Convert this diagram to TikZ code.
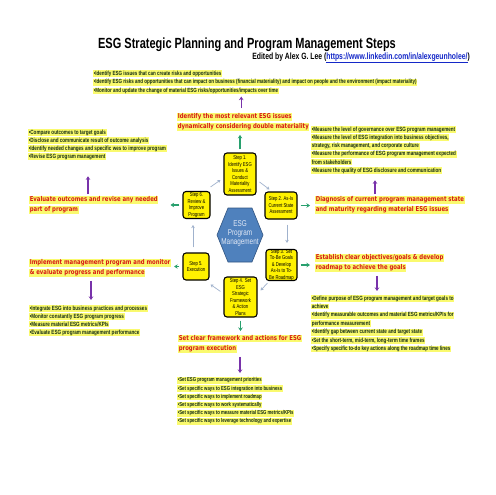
\documentclass[tikz,border=0pt]{standalone}
\usepackage{fontspec}
\setmainfont{Liberation Sans}
\newfontfamily\nf[FakeStretch=0.75]{Liberation Sans}
\newfontfamily\hf[FakeStretch=0.8]{DejaVu Sans}
\usetikzlibrary{arrows.meta,calc}
\definecolor{hly}{RGB}{250,250,110}
\definecolor{txtg}{RGB}{20,45,20}
\definecolor{hred}{RGB}{215,25,20}
\definecolor{garr}{RGB}{40,160,110}
\definecolor{parr}{RGB}{120,50,170}
\definecolor{carr}{RGB}{160,178,205}
\definecolor{hexf}{RGB}{79,129,189}
\definecolor{hexd}{RGB}{50,85,130}
\definecolor{hext}{RGB}{225,232,245}
\definecolor{urlb}{RGB}{20,40,200}
\newcommand\hlx[1]{{\setlength\fboxsep{0.6pt}\colorbox{hly}{#1}}}
\tikzset{
  stepbox/.style={draw=black, line width=1.1pt, fill=yellow, rounded corners=3pt,
    align=center, inner sep=0pt, font=\nf\fontsize{5.6}{6.5}\selectfont},
  bul/.style={anchor=north west, align=left, inner sep=0pt, text=txtg},
  head/.style={anchor=north west, align=left, inner sep=0pt, text=hred,
    font=\hf\bfseries\fontsize{6.7}{9.8}\selectfont},
  garrow/.style={draw=garr, line width=1.1pt, -{Stealth[length=3.5pt,width=4.5pt]}},
  parrow/.style={draw=parr, line width=1.1pt, -{Stealth[length=3.5pt,width=4.5pt]}},
  carrow/.style={draw=carr, line width=0.7pt, -{Stealth[length=3pt,width=3.5pt]}}
}
\begin{document}
\begin{tikzpicture}[x=1pt,y=-1pt]
\useasboundingbox (0,0) rectangle (495,495);
\fill[white] (0,0) rectangle (495,495);

% title
\node[inner sep=0pt, font=\nf\bfseries\fontsize{14.7}{16}\selectfont] (title) at (247,45)
  {ESG Strategic Planning and Program Management Steps};
\node[inner sep=0pt, anchor=east, font=\nf\bfseries\fontsize{9.1}{10}\selectfont] (sub) at (470,58)
  {Edited by Alex G. Lee (\textcolor{urlb}{\underline{https://www.linkedin.com/in/alexgeunholee/}})};

% hexagon
\draw[fill=hexf, draw=hexd, line width=0.6pt]
  (217,235) -- (228,208) -- (252,208) -- (263,235) -- (252,262) -- (228,262) -- cycle;
\node[inner sep=0pt, align=center, text=hext, font=\nf\fontsize{8.5}{9}\selectfont] (hex) at (240,233)
  {ESG\\Program\\Management};

% steps
\node[stepbox, minimum width=32pt, minimum height=42pt] (s1) at (240,174)
  {Step 1.\\Identify ESG\\Issues \&\\Conduct\\Materiality\\Assessment};
\node[stepbox, minimum width=32pt, minimum height=27pt] (s2) at (281,205.5)
  {Step 2. As-Is\\Current State\\Assessment};
\node[stepbox, minimum width=31pt, minimum height=30pt] (s3) at (281.5,265)
  {Step 3. Set\\To-Be Goals\\\& Develop\\As-Is to To-\\Be Roadmap};
\node[stepbox, minimum width=33pt, minimum height=40pt] (s4) at (240.5,297)
  {Step 4. Set\\ESG\\Strategic\\Framework\\\& Action\\Plans};
\node[stepbox, minimum width=26pt, minimum height=27pt] (s5) at (196,266.5)
  {Step 5.\\Execution};
\node[stepbox, minimum width=27pt, minimum height=27pt] (s6) at (196.5,205)
  {Step 6.\\Review \&\\Improve\\Program};

% cycle arrows
\draw[carrow] ([xshift=3pt,yshift=-8pt]s1.east) -- ([xshift=5pt,yshift=2pt]s2.north west);
\draw[carrow, shorten <=5pt, shorten >=6pt] ([xshift=6pt]s2.south) -- ([xshift=6pt]s2.south |- s3.north);
\draw[carrow] ([xshift=2pt,yshift=-2pt]s3.south west) -- ([xshift=3pt,yshift=-14pt]s4.north east);
\draw[carrow] ([xshift=-3pt,yshift=-15pt]s4.north west) -- ([xshift=1pt,yshift=-4pt]s5.south east);
\draw[carrow, shorten <=5pt, shorten >=6pt] ([xshift=-3pt]s5.north) -- ([xshift=-3pt]s5.north |- s6.south);
\draw[carrow] ([yshift=4pt]s6.north east) -- ([xshift=-3pt,yshift=-6pt]s1.west);

% headings
\node[head] (h1) at (177,113) {\hlx{Identify the most relevant ESG issues}\\\hlx{dynamically considering double materiality}};
\node[head] (h2) at (315,196) {\hlx{Diagnosis of current program management state}\\\hlx{and maturity regarding material ESG issues}};
\node[head] (h3) at (315,254) {\hlx{Establish clear objectives/goals \& develop}\\\hlx{roadmap to achieve the goals}};
\node[head] (h4) at (178,335) {\hlx{Set clear framework and actions for ESG}\\\hlx{program execution}};
\node[head] (h5) at (29,259) {\hlx{Implement management program and monitor}\\\hlx{\& evaluate progress and performance}};
\node[head] (h6) at (29,196) {\hlx{Evaluate outcomes and revise any needed}\\\hlx{part of program}};

% green arrows
\draw[garrow, shorten <=3pt, shorten >=4pt] (s1.north) -- (s1.north |- h1.south);
\draw[garrow, shorten <=3pt, shorten >=5pt] (s2.east) -- (s2.east -| h2.west);
\draw[garrow, shorten <=3pt, shorten >=5pt] (s3.east) -- (s3.east -| h3.west);
\draw[garrow, shorten <=3pt, shorten >=4pt] (s4.south) -- (s4.south |- h4.north);
\draw[garrow, shorten <=3pt, shorten >=3pt] (s5.west) -- (s5.west -| h5.east);
\draw[garrow, shorten <=3pt, shorten >=12pt] (s6.west) -- (s6.west -| h6.east);

% bullet blocks
\node[bul, font=\nf\bfseries\fontsize{6}{8.7}\selectfont] (T) at (93,70)
  {\hlx{•Identify ESG issues that can create risks and opportunities}\\
   \hlx{•Identify ESG risks and opportunities that can impact on business (financial materiality) and impact on people and the environment (impact materiality)}\\
   \hlx{•Monitor and update the change of material ESG risks/opportunities/impacts over time}};
\node[bul, font=\nf\bfseries\fontsize{6.1}{8}\selectfont] (UL) at (28,129)
  {\hlx{•Compare outcomes to target goals}\\
   \hlx{•Disclose and communicate result of outcome analysis}\\
   \hlx{•Identify needed changes and specific wes to improve program}\\
   \hlx{•Revise ESG program management}};
\node[bul, font=\nf\bfseries\fontsize{6.1}{8.2}\selectfont] (UR) at (311,126)
  {\hlx{•Measure the level of governance over ESG program management}\\
   \hlx{•Measure the level of ESG integration into business objectives,}\\
   \hlx{strategy, risk management, and corporate culture}\\
   \hlx{•Measure the performance of ESG program management expected}\\
   \hlx{from stakeholders}\\
   \hlx{•Measure the quality of ESG disclosure and communication}};
\node[bul, font=\nf\bfseries\fontsize{6.05}{8.4}\selectfont] (LR) at (311,295)
  {\hlx{•Define purpose of ESG program management and target goals to}\\
   \hlx{achieve}\\
   \hlx{•Identify measurable outcomes and material ESG metrics/KPIs for}\\
   \hlx{performance measurement}\\
   \hlx{•Identify gap between current state and target state}\\
   \hlx{•Set the short-term, mid-term, long-term time frames}\\
   \hlx{•Specify specific to-do key actions along the roadmap time lines}};
\node[bul, font=\nf\bfseries\fontsize{6.1}{8}\selectfont] (LL) at (29,305)
  {\hlx{•Integrate ESG into business practices and processes}\\
   \hlx{•Monitor constantly ESG program progress}\\
   \hlx{•Measure material ESG metrics/KPIs}\\
   \hlx{•Evaluate ESG program management performance}};
\node[bul, font=\nf\bfseries\fontsize{5.7}{8.2}\selectfont] (B) at (177,377)
  {\hlx{•Set ESG program management priorities}\\
   \hlx{•Set specific ways to ESG integration into business}\\
   \hlx{•Set specific ways to implement roadmap}\\
   \hlx{•Set specific ways to work systematically}\\
   \hlx{•Set specific ways to measure material ESG metrics/KPIs}\\
   \hlx{•Set specific ways to leverage technology and expertise}};

% purple arrows
\draw[parrow, shorten <=5pt, shorten >=2pt] ([xshift=-2pt]h1.north) -- ([xshift=-2pt]h1.north |- T.south);
\draw[parrow, shorten <=2pt, shorten >=6pt] ([xshift=60pt]h2.north west) -- ([xshift=60pt]h2.north west |- UR.south);
\draw[parrow, shorten <=4pt, shorten >=4pt] ([xshift=62pt]h3.south west) -- ([xshift=62pt]h3.south west |- LR.north);
\draw[parrow, shorten <=4pt, shorten >=4pt] ([xshift=62pt]h4.south west) -- ([xshift=62pt]h4.south west |- B.north);
\draw[parrow, shorten <=4pt, shorten >=5pt] ([xshift=62pt]h5.south west) -- ([xshift=62pt]h5.south west |- LL.north);
\draw[parrow, shorten <=2pt, shorten >=16pt] ([xshift=59pt]h6.north west) -- ([xshift=59pt]h6.north west |- UL.south);
\end{tikzpicture}
\end{document}
